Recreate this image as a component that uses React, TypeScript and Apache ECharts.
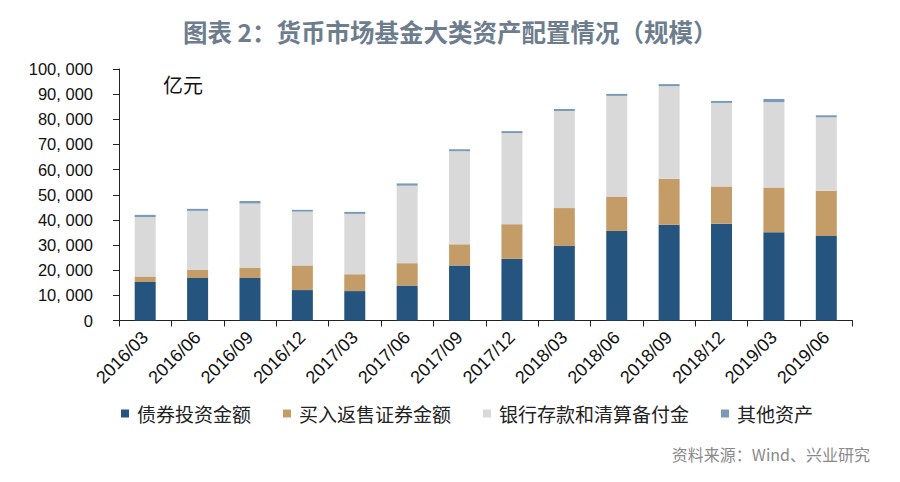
import React, { useEffect, useRef } from "react";
import * as echarts from "echarts";

const categories = [
  "2016/03", "2016/06", "2016/09", "2016/12", "2017/03", "2017/06", "2017/09",
  "2017/12", "2018/03", "2018/06", "2018/09", "2018/12", "2019/03", "2019/06",
];
const bondInvest = [15300, 16900, 16900, 12100, 11700, 13900, 21900, 24500, 29600, 35600, 38100, 38500, 35100, 33600];
const reverseRepo = [2200, 3200, 4000, 9800, 6700, 8900, 8400, 13800, 15100, 13700, 18300, 14800, 17800, 18000];
const bankDeposits = [23600, 23500, 25600, 21400, 24000, 30800, 37000, 36200, 38600, 40000, 36800, 33200, 33900, 29200];
const otherAssets = [900, 800, 1000, 700, 800, 900, 800, 800, 800, 800, 800, 800, 1300, 800];

const seriesNames = ["债券投资金额", "买入返售证券金额", "银行存款和清算备付金", "其他资产"];
const seriesColors = ["#25557F", "#C49C67", "#D9D9DA", "#7A9BB8"];
const titleText = "图表 2：货币市场基金大类资产配置情况（规模）";
const unitText = "亿元";
const sourceText = "资料来源：Wind、兴业研究";

const cjk = "'Noto Sans CJK SC', 'Noto Sans', sans-serif";
const latin = "'Liberation Sans', Arial, sans-serif";

function fmt(v: number): string {
  if (v === 0) return "0";
  const s = String(v);
  return s.slice(0, s.length - 3) + ", " + s.slice(s.length - 3);
}

export default function App() {
  const ref = useRef<HTMLDivElement>(null);
  useEffect(() => {
    if (!ref.current) return;
    const chart = echarts.init(ref.current, undefined, { renderer: "svg" });
    const data = [bondInvest, reverseRepo, bankDeposits, otherAssets];
    chart.setOption({
      animation: false,
      backgroundColor: "#ffffff",
      title: {
        text: titleText,
        left: 178,
        top: 14,
        textStyle: { fontSize: 24.5, fontWeight: "bold", color: "#6D7D8E", fontFamily: cjk },
      },
      graphic: [
        {
          type: "text",
          left: 163,
          top: 74,
          style: { text: unitText, fontSize: 20, fill: "#111", fontFamily: cjk },
        },
        {
          type: "text",
          right: 30,
          top: 446,
          style: { text: sourceText, fontSize: 16, fill: "#8A8A8A", fontFamily: cjk },
        },
      ],
      legend: {
        left: 116,
        top: 399,
        itemWidth: 8,
        itemHeight: 8,
        itemGap: 32,
        icon: "rect",
        data: seriesNames,
        textStyle: { fontSize: 19, color: "#222", fontFamily: cjk, padding: [0, 0, 0, 3] },
      },
      grid: { left: 119, right: 47.5, top: 69, bottom: 161.5, containLabel: false },
      xAxis: {
        type: "category",
        data: categories,
        axisLine: { lineStyle: { color: "#222", width: 1 } },
        axisTick: { show: true, length: 6, lineStyle: { color: "#222" } },
        axisLabel: {
          rotate: 45,
          interval: 0,
          margin: 14,
          fontSize: 18,
          color: "#111",
          fontFamily: latin,
        },
      },
      yAxis: {
        type: "value",
        min: 0,
        max: 100000,
        interval: 10000,
        axisLine: { show: true, lineStyle: { color: "#222", width: 1 } },
        axisTick: { show: true, length: 6, lineStyle: { color: "#222" } },
        splitLine: { show: false },
        axisLabel: {
          margin: 26,
          fontSize: 16.5,
          color: "#111",
          fontFamily: latin,
          formatter: (v: number) => fmt(v),
        },
      },
      series: seriesNames.map((name, i) => ({
        name,
        type: "bar",
        stack: "total",
        barWidth: 21,
        data: data[i],
        itemStyle: { color: seriesColors[i] },
      })),
    });
    return () => chart.dispose();
  }, []);
  return (
    <div
      ref={ref}
      style={{ position: "fixed", left: 0, top: 0, width: 900, height: 482, background: "#fff" }}
    />
  );
}
